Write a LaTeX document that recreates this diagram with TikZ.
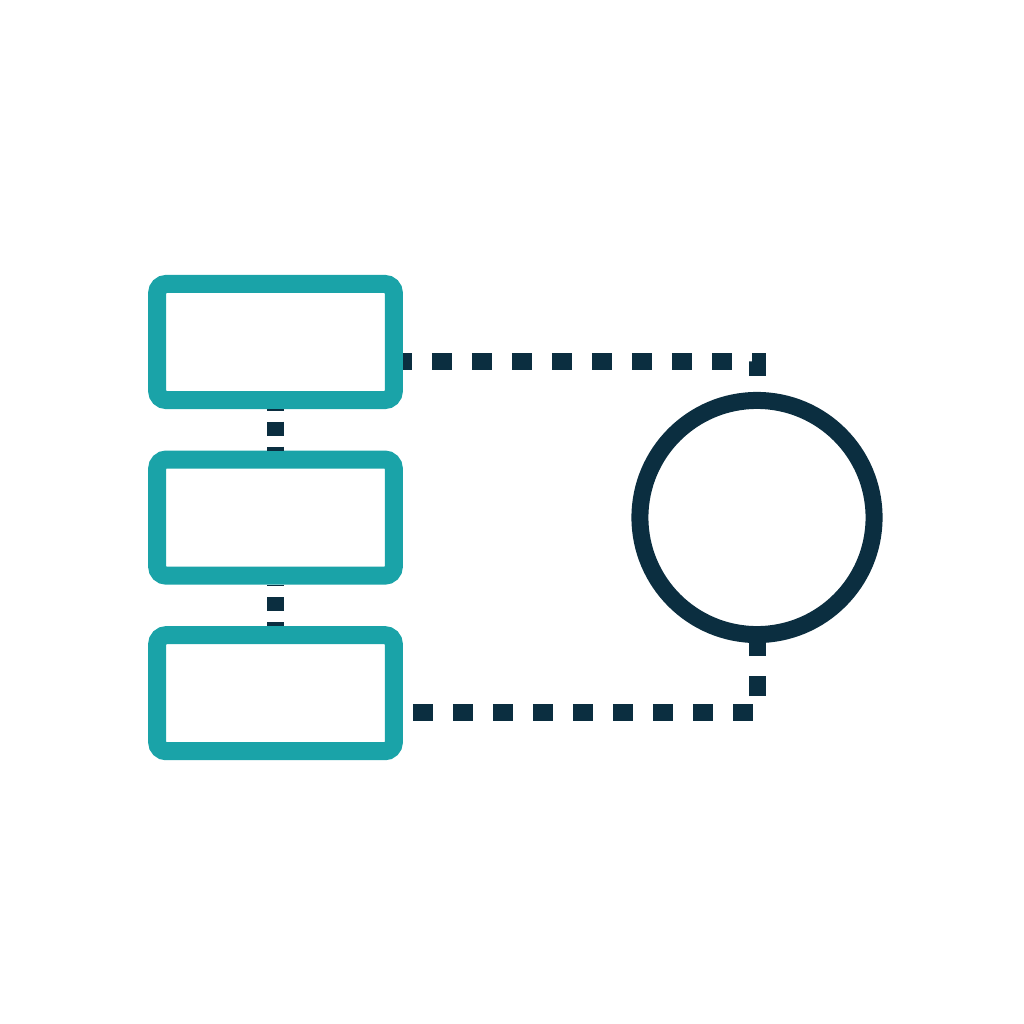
\documentclass[tikz,border=0pt]{standalone}
\usepackage{tikz}
\usetikzlibrary{positioning}
\definecolor{tealc}{RGB}{26,163,168}
\definecolor{navyc}{RGB}{11,46,64}
\tikzset{
block/.style={shape=rectangle, draw=tealc, line width=0.18cm, fill=white, rounded corners=0.09cm, minimum width=2.365cm, minimum height=1.16cm, inner sep=0}, hub/.style={shape=circle, draw=navyc, line width=0.17cm, minimum size=2.34cm, inner sep=0}, link/.style={draw=navyc, line width=0.17cm, dash pattern=on 0.2cm off 0.2cm}}

\begin{document}
\begin{tikzpicture}[x=0.01cm, y=-0.01cm, node distance=0.415cm]
\useasboundingbox (0,0) rectangle (1024,1024);
\node [block] at (275.5, 342) (b-1) {};
\node [block, below=of b-1] (b-2) {};
\node [block, below=of b-2] (b-3) {};
\node [hub] at (757, 517.5) (hub) {};
\foreach \i [evaluate={\ii=int(\i+1);}] in {1, 2}{
      \draw [link, dash pattern=on 0.14cm off 0.11cm, dash phase=0.125cm] (b-\i.south) -- (b-\ii.north);
}
\draw [link, dash phase=0.11cm] ([yshift=-0.19cm]b-1.east) -| (hub.north);
\draw [link, dash phase=0.3cm] ([yshift=-0.19cm]b-3.east) -| (hub.south);
\end{tikzpicture}
\end{document}
